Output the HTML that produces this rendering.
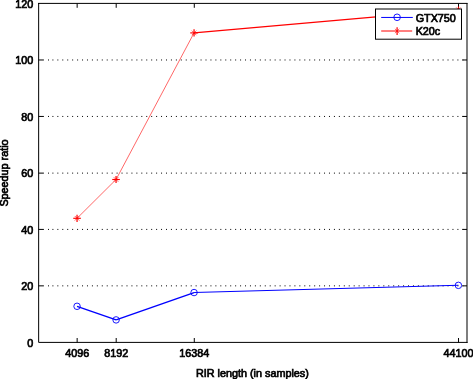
<!DOCTYPE html>
<html><head><meta charset="utf-8"><title>Speedup ratio</title>
<style>html,body{margin:0;padding:0;background:#fff;}svg{display:block;}text{font-family:"Liberation Sans",Arial,Helvetica,sans-serif;font-size:10.8px;fill:#000;stroke:#000;stroke-width:0.68px;}</style></head><body>
<svg width="473" height="379" viewBox="0 0 473 379">
<rect x="0" y="0" width="473" height="379" fill="#fff"/>
<line x1="48" y1="285.85" x2="49" y2="285.85" stroke="#000" stroke-width="1"/>
<line x1="52.4" y1="285.85" x2="463.50" y2="285.85" stroke="#000" stroke-width="1" stroke-dasharray="1 3.939"/>
<line x1="48" y1="229.42" x2="49" y2="229.42" stroke="#000" stroke-width="1"/>
<line x1="52.4" y1="229.42" x2="463.50" y2="229.42" stroke="#000" stroke-width="1" stroke-dasharray="1 3.939"/>
<line x1="48" y1="173.12" x2="49" y2="173.12" stroke="#000" stroke-width="1"/>
<line x1="52.4" y1="173.12" x2="463.50" y2="173.12" stroke="#000" stroke-width="1" stroke-dasharray="1 3.939"/>
<line x1="48" y1="116.45" x2="49" y2="116.45" stroke="#000" stroke-width="1"/>
<line x1="52.4" y1="116.45" x2="463.50" y2="116.45" stroke="#000" stroke-width="1" stroke-dasharray="1 3.939"/>
<line x1="48" y1="59.97" x2="49" y2="59.97" stroke="#000" stroke-width="1"/>
<line x1="52.4" y1="59.97" x2="463.50" y2="59.97" stroke="#000" stroke-width="1" stroke-dasharray="1 3.939"/>
<path d="M38.50 3.40H467.00M38.65 3.50V342.40H467.00" fill="none" stroke="#000" stroke-width="1" stroke-linecap="square"/>
<line x1="467.00" y1="3.00" x2="467.00" y2="342.90" stroke="#000" stroke-width="1.02"/>
<line x1="77.15" y1="342.50" x2="77.15" y2="338.00" stroke="#000" stroke-width="1"/>
<line x1="77.15" y1="3.50" x2="77.15" y2="7.80" stroke="#000" stroke-width="1"/>
<line x1="116.20" y1="342.50" x2="116.20" y2="338.00" stroke="#000" stroke-width="1"/>
<line x1="116.20" y1="3.50" x2="116.20" y2="7.80" stroke="#000" stroke-width="1"/>
<line x1="194.29" y1="342.50" x2="194.29" y2="338.00" stroke="#000" stroke-width="1"/>
<line x1="194.29" y1="3.50" x2="194.29" y2="7.80" stroke="#000" stroke-width="1"/>
<line x1="458.52" y1="342.50" x2="458.52" y2="338.00" stroke="#000" stroke-width="1"/>
<line x1="458.52" y1="3.50" x2="458.52" y2="7.80" stroke="#000" stroke-width="1"/>
<line x1="38.50" y1="285.85" x2="43.90" y2="285.85" stroke="#000" stroke-width="1"/>
<line x1="467.00" y1="285.85" x2="462.50" y2="285.85" stroke="#000" stroke-width="1"/>
<line x1="38.50" y1="229.42" x2="43.90" y2="229.42" stroke="#000" stroke-width="1"/>
<line x1="467.00" y1="229.42" x2="462.50" y2="229.42" stroke="#000" stroke-width="1"/>
<line x1="38.50" y1="173.12" x2="43.90" y2="173.12" stroke="#000" stroke-width="1"/>
<line x1="467.00" y1="173.12" x2="462.50" y2="173.12" stroke="#000" stroke-width="1"/>
<line x1="38.50" y1="116.45" x2="43.90" y2="116.45" stroke="#000" stroke-width="1"/>
<line x1="467.00" y1="116.45" x2="462.50" y2="116.45" stroke="#000" stroke-width="1"/>
<line x1="38.50" y1="59.97" x2="43.90" y2="59.97" stroke="#000" stroke-width="1"/>
<line x1="467.00" y1="59.97" x2="462.50" y2="59.97" stroke="#000" stroke-width="1"/>
<text x="77.15" y="357.4" text-anchor="middle">4096</text>
<text x="116.20" y="357.4" text-anchor="middle">8192</text>
<text x="194.29" y="357.4" text-anchor="middle">16384</text>
<text x="458.52" y="357.4" text-anchor="middle">44100</text>
<text x="33.2" y="346.70" text-anchor="end">0</text>
<text x="33.2" y="290.05" text-anchor="end">20</text>
<text x="33.2" y="233.62" text-anchor="end">40</text>
<text x="33.2" y="177.32" text-anchor="end">60</text>
<text x="33.2" y="120.65" text-anchor="end">80</text>
<text x="33.2" y="64.17" text-anchor="end">100</text>
<text x="33.2" y="7.70" text-anchor="end">120</text>
<text x="252.4" y="376.6" text-anchor="middle">RIR length (in samples)</text>
<text transform="translate(7.8,173) rotate(-90)" text-anchor="middle">Speedup ratio</text>
<line x1="77.05" y1="218.30" x2="116.05" y2="179.50" stroke="#ff0000" stroke-width="0.6"/>
<line x1="116.05" y1="179.50" x2="194.05" y2="32.90" stroke="#ff0000" stroke-width="0.6"/>
<line x1="194.05" y1="32.90" x2="458.50" y2="9.70" stroke="#ff0000" stroke-width="1.25"/>
<path d="M73.25 218.30H80.85" stroke="#ff0000" stroke-width="1.15" fill="none"/><path d="M77.05 214.70V221.90" stroke="#ff0000" stroke-width="1.2" fill="none"/><path d="M74.75 216.00L79.35 220.60M74.75 220.60L79.35 216.00" stroke="#ff0000" stroke-width="0.6" fill="none"/>
<path d="M112.25 179.50H119.85" stroke="#ff0000" stroke-width="1.15" fill="none"/><path d="M116.05 175.90V183.10" stroke="#ff0000" stroke-width="1.2" fill="none"/><path d="M113.75 177.20L118.35 181.80M113.75 181.80L118.35 177.20" stroke="#ff0000" stroke-width="0.6" fill="none"/>
<path d="M190.25 32.90H197.85" stroke="#ff0000" stroke-width="1.15" fill="none"/><path d="M194.05 29.30V36.50" stroke="#ff0000" stroke-width="1.2" fill="none"/><path d="M191.75 30.60L196.35 35.20M191.75 35.20L196.35 30.60" stroke="#ff0000" stroke-width="0.6" fill="none"/>
<path d="M455.20 9.70H461.80" stroke="#ff0000" stroke-width="1.15" fill="none"/><path d="M458.50 6.60V12.80" stroke="#ff0000" stroke-width="1.2" fill="none"/><path d="M456.20 7.40L460.80 12.00M456.20 12.00L460.80 7.40" stroke="#ff0000" stroke-width="0.6" fill="none"/>
<line x1="77.05" y1="306.30" x2="116.10" y2="319.90" stroke="#0000ff" stroke-width="1.4"/>
<line x1="116.10" y1="319.90" x2="194.05" y2="292.55" stroke="#0000ff" stroke-width="1.4"/>
<line x1="194.05" y1="292.55" x2="458.40" y2="285.35" stroke="#0000ff" stroke-width="1.05"/>
<circle cx="77.05" cy="306.30" r="3.25" fill="none" stroke="#0000ff" stroke-width="0.9"/>
<circle cx="116.10" cy="319.90" r="3.25" fill="none" stroke="#0000ff" stroke-width="0.9"/>
<circle cx="194.05" cy="292.55" r="3.25" fill="none" stroke="#0000ff" stroke-width="0.9"/>
<circle cx="458.40" cy="285.35" r="3.25" fill="none" stroke="#0000ff" stroke-width="0.9"/>
<rect x="375.5" y="9" width="86" height="30.2" fill="#fff" stroke="#000" stroke-width="1"/>
<line x1="381.2" y1="17.45" x2="412.8" y2="17.45" stroke="#0000ff" stroke-width="1"/>
<circle cx="397.1" cy="17.3" r="3.3" fill="none" stroke="#0000ff" stroke-width="0.9"/>
<line x1="381.2" y1="31" x2="412.2" y2="31" stroke="#ff0000" stroke-width="1"/>
<path d="M397.1 27.2V34.9" stroke="#ff0000" stroke-width="1.2" fill="none"/><path d="M394.9 28.8L399.3 33.2M394.9 33.2L399.3 28.8" stroke="#ff0000" stroke-width="0.6" fill="none"/>
<text x="415.65" y="21.55">GTX750</text>
<text x="415.65" y="35.4">K20c</text>
</svg></body></html>
